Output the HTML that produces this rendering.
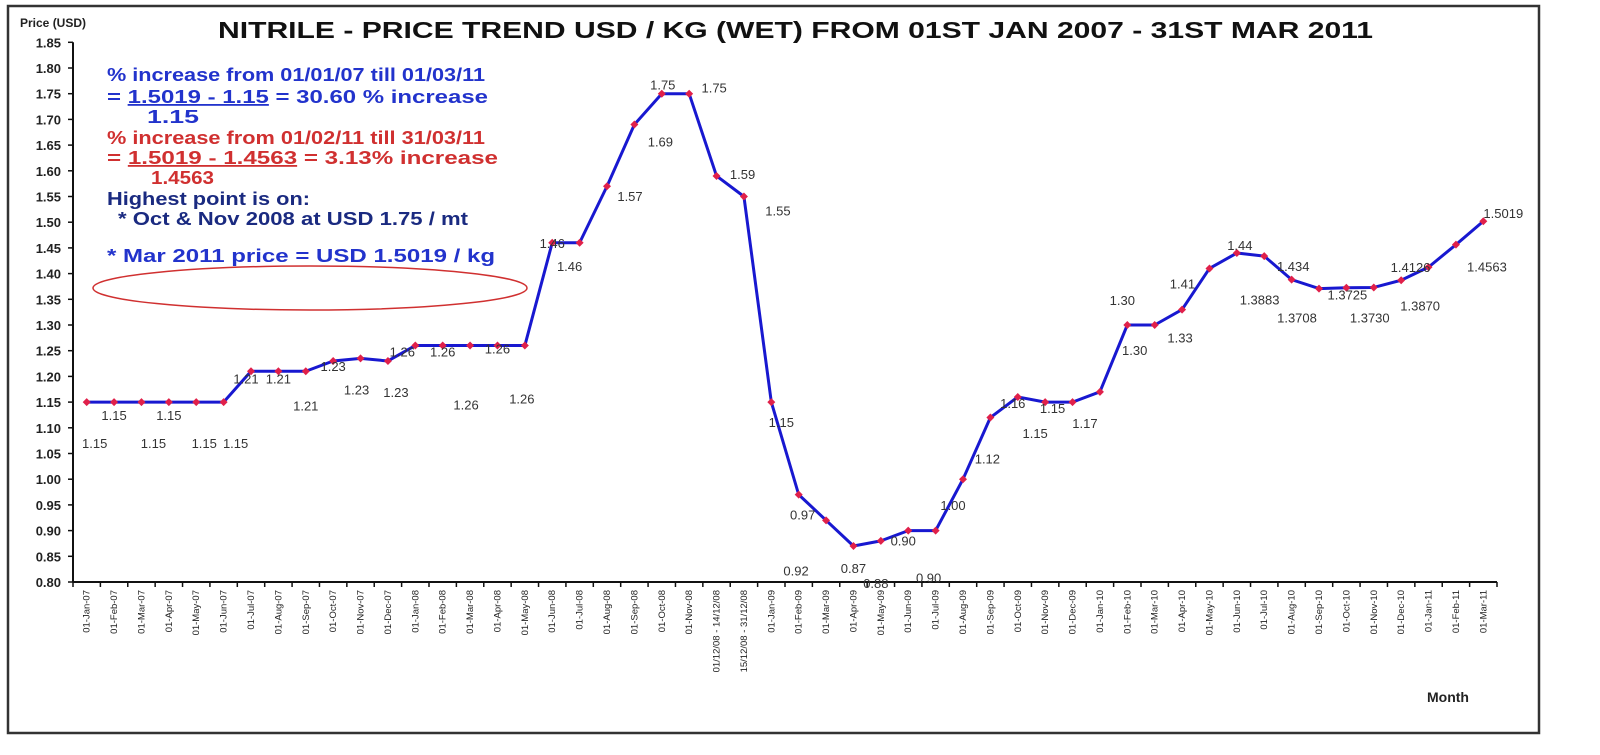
<!DOCTYPE html>
<html><head><meta charset="utf-8"><style>
body{margin:0;background:#fff;}
svg{display:block;font-family:"Liberation Sans",Arial,sans-serif;}
</style></head><body>
<svg width="1600" height="755" viewBox="0 0 1600 755">
<rect x="8" y="6" width="1531" height="727" fill="#fff" stroke="#333" stroke-width="2.5"/>
<text x="218" y="38" textLength="1155" lengthAdjust="spacingAndGlyphs" font-size="23" font-weight="bold" fill="#111">NITRILE - PRICE TREND USD / KG (WET) FROM 01ST JAN 2007 - 31ST MAR 2011</text>
<text x="20" y="27" font-size="12" font-weight="bold" fill="#222">Price (USD)</text>
<text x="1427" y="702" font-size="14" font-weight="bold" fill="#222">Month</text>
<g font-size="18" font-weight="bold">
<text x="107" y="81" fill="#2233cc" textLength="378" lengthAdjust="spacingAndGlyphs">% increase from 01/01/07 till 01/03/11</text>
<text x="107" y="103" fill="#2233cc" textLength="381" lengthAdjust="spacingAndGlyphs">= <tspan text-decoration="underline">1.5019 - 1.15</tspan>  = 30.60 % increase</text>
<text x="147" y="123" fill="#2233cc" textLength="52" lengthAdjust="spacingAndGlyphs">1.15</text>
<text x="107" y="144" fill="#d03030" textLength="378" lengthAdjust="spacingAndGlyphs">% increase from 01/02/11 till 31/03/11</text>
<text x="107" y="164" fill="#d03030" textLength="391" lengthAdjust="spacingAndGlyphs">= <tspan text-decoration="underline">1.5019 - 1.4563</tspan>  = 3.13% increase</text>
<text x="151" y="184" fill="#d03030" textLength="63" lengthAdjust="spacingAndGlyphs">1.4563</text>
<text x="107" y="205" fill="#1a2a80" textLength="203" lengthAdjust="spacingAndGlyphs">Highest point is on:</text>
<text x="118" y="225" fill="#1a2a80" textLength="350" lengthAdjust="spacingAndGlyphs">* Oct &amp; Nov 2008 at USD 1.75 / mt</text>
<text x="107" y="262" fill="#2233cc" textLength="388" lengthAdjust="spacingAndGlyphs">* Mar 2011 price = USD 1.5019 / kg</text>
</g>
<ellipse cx="310" cy="288" rx="217" ry="22" fill="none" stroke="#d03030" stroke-width="1.5"/>
<g id="axes"></g>
<g id="marks"></g>
</svg>
<script>
const categories=["01-Jan-07","01-Feb-07","01-Mar-07","01-Apr-07","01-May-07","01-Jun-07","01-Jul-07","01-Aug-07","01-Sep-07","01-Oct-07","01-Nov-07","01-Dec-07","01-Jan-08","01-Feb-08","01-Mar-08","01-Apr-08","01-May-08","01-Jun-08","01-Jul-08","01-Aug-08","01-Sep-08","01-Oct-08","01-Nov-08","01/12/08 - 14/12/08","15/12/08 - 31/12/08","01-Jan-09","01-Feb-09","01-Mar-09","01-Apr-09","01-May-09","01-Jun-09","01-Jul-09","01-Aug-09","01-Sep-09","01-Oct-09","01-Nov-09","01-Dec-09","01-Jan-10","01-Feb-10","01-Mar-10","01-Apr-10","01-May-10","01-Jun-10","01-Jul-10","01-Aug-10","01-Sep-10","01-Oct-10","01-Nov-10","01-Dec-10","01-Jan-11","01-Feb-11","01-Mar-11"];
const prices=[1.15,1.15,1.15,1.15,1.15,1.15,1.21,1.21,1.21,1.23,1.235,1.23,1.26,1.26,1.26,1.26,1.26,1.46,1.46,1.57,1.69,1.75,1.75,1.59,1.55,1.15,0.97,0.92,0.87,0.88,0.90,0.90,1.00,1.12,1.16,1.15,1.15,1.17,1.30,1.30,1.33,1.41,1.44,1.434,1.3883,1.3708,1.3725,1.3730,1.3870,1.4126,1.4563,1.5019];
const valueLabels=["1.15","1.15","1.15","1.15","1.15","1.15","1.21","1.21","1.21","1.23","1.23","1.23","1.26","1.26","1.26","1.26","1.26","1.46","1.46","1.57","1.69","1.75","1.75","1.59","1.55","1.15","0.97","0.92","0.87","0.88","0.90","0.90","1.00","1.12","1.16","1.15","1.15","1.17","1.30","1.30","1.33","1.41","1.44","1.434","1.3883","1.3708","1.3725","1.3730","1.3870","1.4126","1.4563","1.5019"];
const yTicks=[0.80,0.85,0.90,0.95,1.00,1.05,1.10,1.15,1.20,1.25,1.30,1.35,1.40,1.45,1.50,1.55,1.60,1.65,1.70,1.75,1.80,1.85];
// label layout offsets (styling, not data)
const ldx=[8,0,12,0,8,12,-5,0,0,0,-4,8,-13,0,-4,0,-3,0,-10,23,26,1,25,26,34,10,4,-30,0,-5,-5,-7,-10,-3,-5,-10,-20,-15,-5,-20,-2,-27,3,29,-32,-22,1,-4,19,-18,31,20];
const ldy=[41,13,41,13,41,41,7,7,34,5,31,31,6,6,59,3,53,0,23,10,17,-9,-6,-2,14,20,20,50,22,42,10,47,26,41,6,31,6,31,-25,25,28,15,-8,10,20,29,7,30,25,0,22,-8];
const ns="http://www.w3.org/2000/svg";
const X0=73,X1=1497,Y0=582,stepY=25.7;
const n=categories.length, bw=(X1-X0)/n;
function xPos(i){return X0+bw*(i+0.5);}
function yPos(v){return Y0-(v-0.8)/0.05*stepY;}
function mk(tag,attrs,parent){const e=document.createElementNS(ns,tag);for(const k in attrs)e.setAttribute(k,attrs[k]);parent.appendChild(e);return e;}
const axes=document.getElementById('axes'),marks=document.getElementById('marks');
let a=mk('line',{x1:X0,y1:yPos(1.85),x2:X0,y2:Y0,stroke:'#111','stroke-width':2},axes);


a=mk('line',{x1:X0,y1:Y0,x2:X1,y2:Y0,stroke:'#111','stroke-width':2},axes);


yTicks.forEach(v=>{const y=yPos(v);
 mk('line',{x1:X0-5,y1:y,x2:X0,y2:y,stroke:'#111','stroke-width':1.5},axes);
 const t=mk('text',{x:X0-12,y:y+5,'text-anchor':'end','font-size':13,'font-weight':'bold',fill:'#222'},axes);
 t.textContent=v.toFixed(2);
 
 
});
for(let i=0;i<=n;i++){const x=X0+bw*i;mk('line',{x1:x,y1:Y0,x2:x,y2:Y0+5,stroke:'#111','stroke-width':1.5},axes);}
categories.forEach((c,i)=>{const x=xPos(i);
 const t=mk('text',{x:0,y:0,transform:`translate(${x+3},590) rotate(-90)`,'text-anchor':'end','font-size':9.5,fill:'#222'},axes);
 t.textContent=c;
 
 
});
const pts=prices.map((v,i)=>xPos(i)+','+yPos(v)).join(' ');
const line=mk('polyline',{points:pts,fill:'none',stroke:'#1818d0','stroke-width':3,'stroke-linejoin':'round'},marks);


prices.forEach((v,i)=>{const x=xPos(i),y=yPos(v);
 const p=mk('polygon',{points:`${x},${y-4} ${x+4},${y} ${x},${y+4} ${x-4},${y}`,fill:'#e0204a'},marks);
 
 
 const t=mk('text',{x:x+ldx[i],y:y+ldy[i]+5,'text-anchor':'middle','font-size':13,fill:'#333'},marks);
 t.textContent=valueLabels[i];
 
 
});
</script>
</body></html>
